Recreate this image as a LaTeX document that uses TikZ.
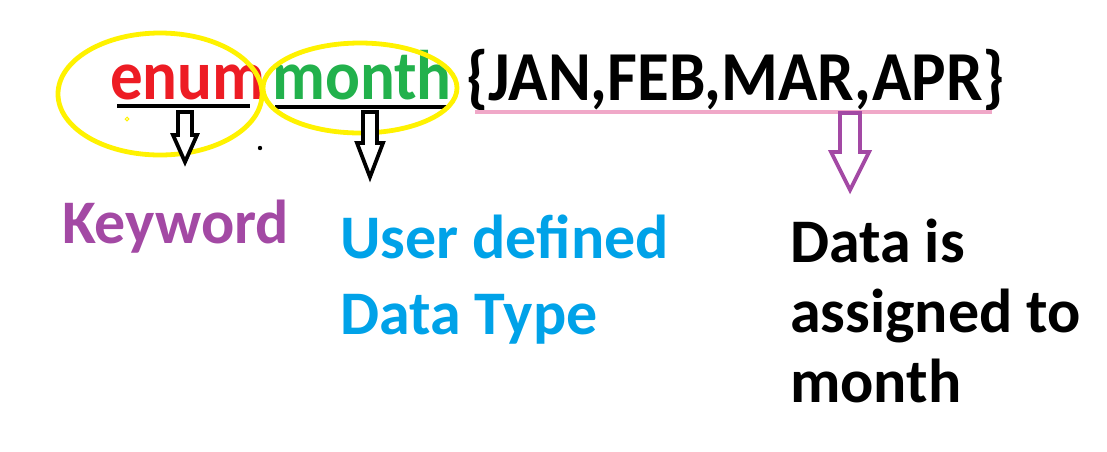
\documentclass[tikz,border=0pt]{standalone}
\usepackage{fontspec}
\setmainfont{Carlito}
\definecolor{enumred}{RGB}{237,28,36}
\definecolor{monthgreen}{RGB}{34,177,76}
\definecolor{kwpurple}{RGB}{163,73,164}
\definecolor{udtblue}{RGB}{0,162,232}
\definecolor{ringyellow}{RGB}{255,242,0}
\definecolor{linepink}{RGB}{240,168,200}
\newcommand{\tallword}[1]{\scalebox{1}[1.08]{#1}}
\begin{document}
\begin{tikzpicture}[x=1pt,y=-1pt,line cap=butt,line join=miter]
\tikzset{bigword/.style={font=\fontsize{65}{70}\selectfont\bfseries,inner sep=0pt,anchor=base west},
lblword/.style={font=\fontsize{62}{70}\selectfont\bfseries,inner sep=0pt,anchor=base west},
hollow/.style={line width=3.8pt,fill=white},
ring/.style={draw=ringyellow,line width=4.8pt}
}
\useasboundingbox (0,0) rectangle (1107,451);
% top line
\node[bigword,text=enumred] (enum) at (110,99) {\tallword{enum}};
\node[bigword,text=monthgreen] (month) at (272,99) {\tallword{month}};
\node[bigword] (vals) at (466,100) {\tallword{\{JAN,FEB,MAR,APR\}}};
\draw[line width=4pt] (117,106)--(250,106);
\draw[line width=4pt] (275,107)--(447,107);
\draw[linepink,line width=4pt] (475,112)--(992,112);
\draw[ring] (160,94) ellipse [x radius=102,y radius=61];
\draw[ring] (360,88) ellipse [x radius=97,y radius=45];
\fill (260,148) circle (2.2);
\draw[ringyellow,line width=1pt] (127,119) circle (1.8);
% arrows
\foreach \cx/\sw/\hw/\yt/\ys/\yp/\col in {185/7/12/112/135/162/black,370/7/13/112/143/177/black,850/10/19/113/152/190/kwpurple}
\draw[hollow,draw=\col] (\cx-\sw,\yt)--(\cx+\sw,\yt)--(\cx+\sw,\ys)--(\cx+\hw,\ys)--(\cx,\yp)--(\cx-\hw,\ys)--(\cx-\sw,\ys)--cycle;
% labels
\node[lblword,text=kwpurple] (kw) at (62,243) {Keyword};
\node[lblword,text=udtblue] (udt) at (340,258) {User defined};
\node[lblword,text=udtblue] (udtb) at (340,334) {Data Type};
\node[lblword] (dat) at (790,262) {Data is};
\node[lblword] (datb) at (790,332) {assigned to};
\node[lblword] (datc) at (790,402) {month};
\end{tikzpicture}
\end{document}
